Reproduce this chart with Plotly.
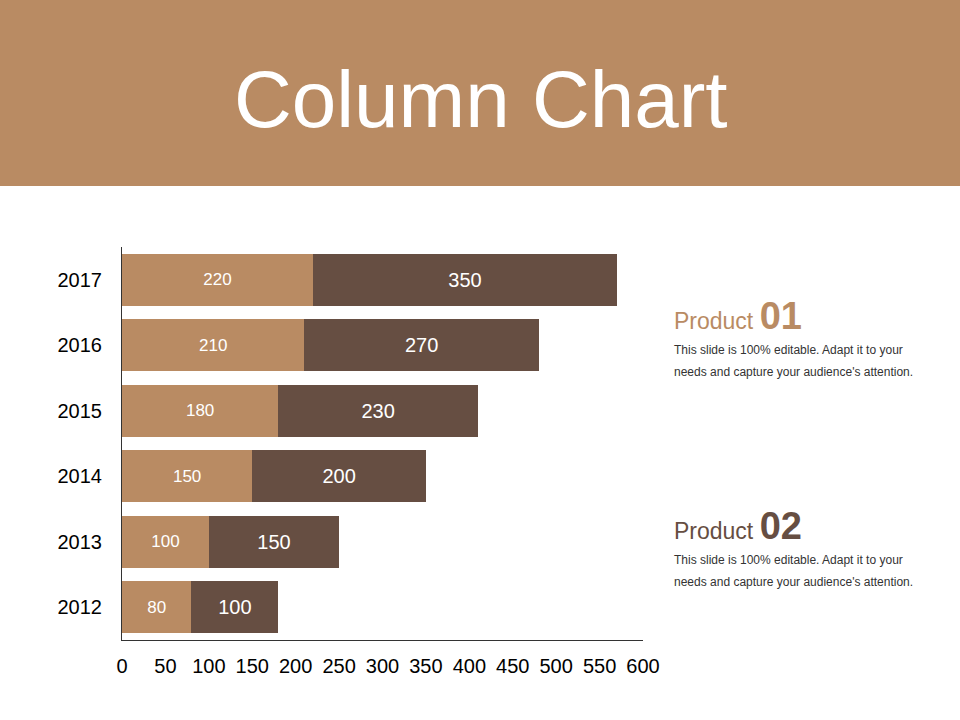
import plotly.graph_objects as go

years = ["2012", "2013", "2014", "2015", "2016", "2017"]
product_01 = [80, 100, 150, 180, 210, 220]
product_02 = [100, 150, 200, 230, 270, 350]
x_ticks = [0, 50, 100, 150, 200, 250, 300, 350, 400, 450, 500, 550, 600]

light = "#B98B63"
dark = "#664E42"
font = "Liberation Sans, Arial, sans-serif"

# plot box in page pixels
L, R, T, B = 122, 643, 247, 640
W, H = R - L, B - T


def px(x):
    return (x - L) / W


def py(y):
    return (B - y) / H


fig = go.Figure()
fig.add_trace(go.Bar(
    y=years, x=product_01, orientation="h", name="Product 01",
    marker=dict(color=light, line=dict(width=0)),
    text=product_01, textposition="inside", insidetextanchor="middle",
    textfont=dict(color="white", size=17, family=font),
))
fig.add_trace(go.Bar(
    y=years, x=product_02, orientation="h", name="Product 02",
    marker=dict(color=dark, line=dict(width=0)),
    text=product_02, textposition="inside", insidetextanchor="middle",
    textfont=dict(color="white", size=20, family=font),
))

fig.update_layout(
    width=960, height=720,
    barmode="stack", bargap=0.2,
    showlegend=False,
    paper_bgcolor="white", plot_bgcolor="white",
    margin=dict(l=L, r=960 - R, t=T, b=720 - B),
    font=dict(family=font, color="black"),
)
fig.update_xaxes(
    range=[0, 600], tickvals=x_ticks, showgrid=False, zeroline=False,
    showline=True, linecolor="#333333", linewidth=1,
    tickfont=dict(size=20), ticklabelstandoff=8,
)
fig.update_yaxes(
    range=[-0.5, 5.5], showgrid=False, zeroline=False,
    showline=True, linecolor="#333333", linewidth=1,
    tickfont=dict(size=20), ticklabelstandoff=15,
)

# header band
fig.add_shape(type="rect", xref="paper", yref="paper",
              x0=px(-20), x1=px(980), y0=py(186), y1=py(-20),
              fillcolor=light, line=dict(width=0), layer="below")
fig.add_annotation(text="Column Chart", xref="paper", yref="paper",
                   x=px(481), y=py(100),
                   showarrow=False, font=dict(size=80, color="white", family=font),
                   xanchor="center", yanchor="middle")

# product descriptions
lines = ["This slide is 100% editable. Adapt it to your",
         "needs and capture your audience's attention."]
for num, col, ybase in [("01", light, 331), ("02", dark, 541)]:
    fig.add_annotation(
        text=f"<span style='font-size:23px'>Product </span><b style='font-size:38px'>{num}</b>",
        xref="paper", yref="paper", x=px(672), y=py(ybase),
        showarrow=False, xanchor="left", yanchor="bottom",
        font=dict(color=col, family=font), yshift=-8,
    )
    for i, ln in enumerate(lines):
        fig.add_annotation(
            text=ln, xref="paper", yref="paper", x=px(672), y=py(ybase + 19 + 22 * i),
            showarrow=False, xanchor="left", yanchor="middle", align="left",
            font=dict(size=12, color="#333333", family=font),
        )

fig.write_html("out.html", config={"displayModeBar": False},
               post_script="document.body.style.margin='0';")
